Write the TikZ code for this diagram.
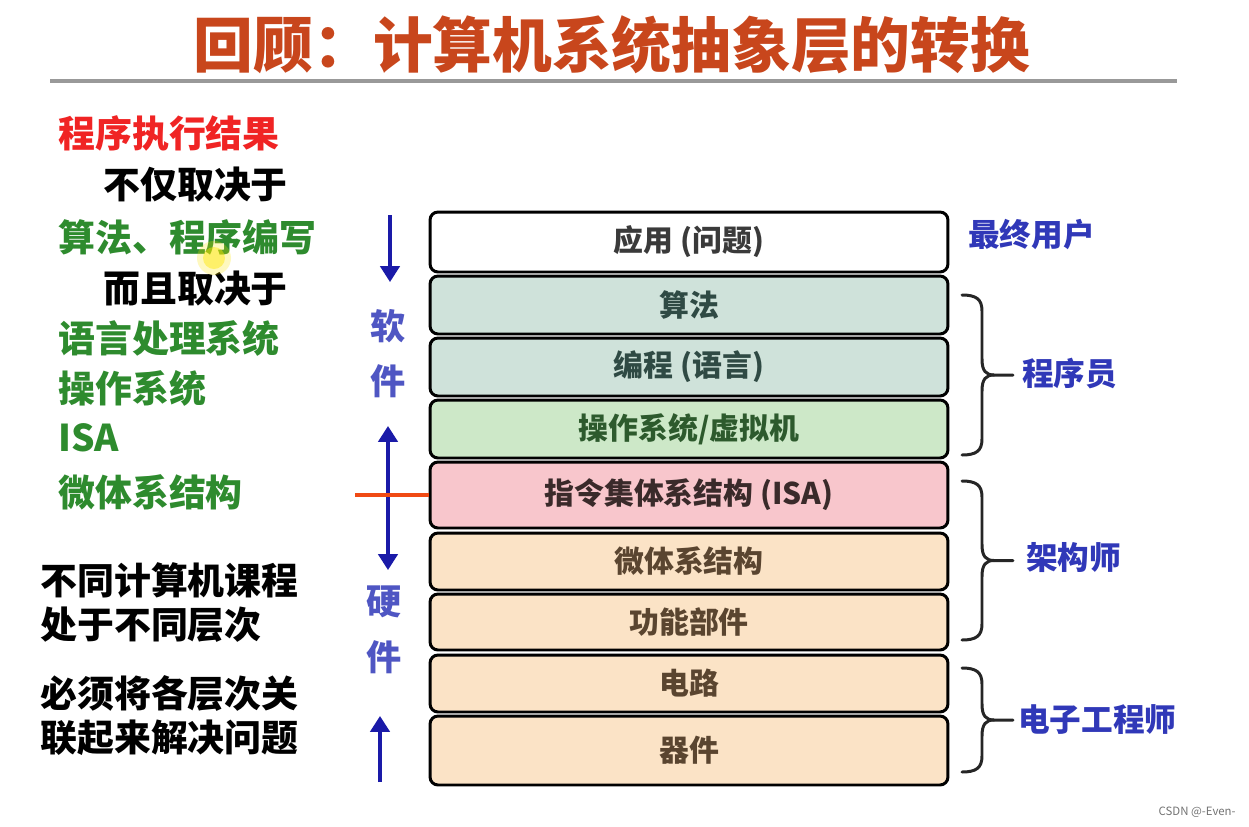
\documentclass[tikz,border=0pt]{standalone}
\usepackage{fontspec}
\setmainfont{Noto Sans CJK SC}
\usetikzlibrary{arrows.meta}
\definecolor{titlec}{HTML}{C8461C}
\definecolor{redt}{HTML}{F02424}
\definecolor{greent}{HTML}{2E8B2E}
\definecolor{bluet}{HTML}{3038B8}
\definecolor{bluea}{HTML}{1A1AA8}
\definecolor{redline}{HTML}{F04A14}
\definecolor{fapp}{HTML}{FFFFFF}
\definecolor{falg}{HTML}{CFE2DA}
\definecolor{fos}{HTML}{CDE8C8}
\definecolor{fisa}{HTML}{F8C6CC}
\definecolor{fhw}{HTML}{FBE3C6}
\definecolor{tapp}{HTML}{3A3A3A}
\definecolor{talg}{HTML}{2F4A44}
\definecolor{tos}{HTML}{2D5A2D}
\definecolor{tisa}{HTML}{3A2A2A}
\definecolor{thw}{HTML}{5A4530}
\newcommand{\mybrace}[3]{% x, top y, bottom y
  \pgfmathsetmacro{\ym}{(#2+#3)/2}
  \draw[bracestyle] (#1,#2) .. controls (#1+14,#2) and (#1+20,#2+4) .. (#1+20,#2+16)
    -- (#1+20,\ym-16) .. controls (#1+20,\ym-4) and (#1+24,\ym) .. (#1+32,\ym) -- (#1+51,\ym);
  \draw[bracestyle] (#1,#3) .. controls (#1+14,#3) and (#1+20,#3-4) .. (#1+20,#3-16)
    -- (#1+20,\ym+16) .. controls (#1+20,\ym+4) and (#1+24,\ym) .. (#1+32,\ym);
}
\begin{document}
\begin{tikzpicture}[x=0.02cm,y=-0.02cm,
  titlestyle/.style={font=\fontsize{34}{40}\selectfont\bfseries, text=titlec, inner sep=0pt},
  lefttext/.style={font=\fontsize{21}{25}\selectfont\bfseries, anchor=west, inner sep=0pt},
  layer/.style={draw=black, line width=1.7pt, rounded corners=0.16cm, minimum width=10.36cm, inner sep=0pt, font=\fontsize{17}{20}\selectfont\bfseries},
  sidelabel/.style={font=\fontsize{18}{22}\selectfont\bfseries, text=bluet, anchor=west, inner sep=0pt},
  swhw/.style={font=\fontsize{20}{24}\selectfont\bfseries, text=bluet!85!white, inner sep=0pt},
  barrow/.style={draw=bluea, line width=1.8pt, -{Triangle[width=11pt,length=9pt]}},
  bracestyle/.style={line width=1.7pt, draw=black!85, line cap=round}
]
\useasboundingbox (0,0) rectangle (1249,826);
\fill[white] (0,0) rectangle (1249,826);

% title
\node[titlestyle] (title) at (612,45) {回顾：计算机系统抽象层的转换};
\coordinate (rl) at (50,81);
\coordinate (rr) at (1177,81);
\draw[line width=2.2pt, black!40] (rl) -- (rr);

% left text
\node[lefttext, text=redt] (l1) at (58,133) {程序执行结果};
\node[lefttext, text=black] (l2) at (103,184) {不仅取决于};
\node[lefttext, text=greent] (l3) at (58,237) {算法、程序编写};
\node[lefttext, text=black] (l4) at (103,288) {而且取决于};
\node[lefttext, text=greent] (l5) at (58,338) {语言处理系统};
\node[lefttext, text=greent] (l6) at (58,388) {操作系统};
\node[lefttext, text=greent] (l7) at (58,438) {ISA};
\node[lefttext, text=greent] (l8) at (58,492) {微体系结构};
\node[lefttext, text=black] (l9) at (40,580) {不同计算机课程};
\node[lefttext, text=black] (l10) at (40,625) {处于不同层次};
\node[lefttext, text=black] (l11) at (40,693) {必须将各层次关};
\node[lefttext, text=black] (l12) at (40,738) {联起来解决问题};
\fill[yellow!90!orange, opacity=0.25] (214,258) circle (17);
\fill[yellow!90!orange, opacity=0.45] (214,258) circle (11);

% layers
\node[layer, fill=fapp, text=tapp, minimum height=1.2cm] (app) at (689,242) {应用 (问题)};
\node[layer, fill=falg, text=talg, minimum height=1.16cm] (alg) at (689,305) {算法};
\node[layer, fill=falg, text=talg, minimum height=1.16cm] (prog) at (689,367) {编程 (语言)};
\node[layer, fill=fos, text=tos, minimum height=1.16cm] (os) at (689,429) {操作系统/虚拟机};
\node[layer, fill=fisa, text=tisa, minimum height=1.32cm] (isa) at (689,495) {指令集体系结构 (ISA)};
\node[layer, fill=fhw, text=thw, minimum height=1.14cm] (march) at (689,561.5) {微体系结构};
\node[layer, fill=fhw, text=thw, minimum height=1.12cm] (func) at (689,622) {功能部件};
\node[layer, fill=fhw, text=thw, minimum height=1.14cm] (circ) at (689,683.5) {电路};
\node[layer, fill=fhw, text=thw, minimum height=1.38cm] (dev) at (689,750.5) {器件};

% left arrows and labels
\coordinate (a1s) at (390,215);
\coordinate (a1e) at (390,282);
\draw[barrow] (a1s) -- (a1e);
\node[swhw] (ruan) at (388,326) {软};
\node[swhw] (jian1) at (388,381) {件};
\coordinate (a2t) at (388,426);
\coordinate (a2b) at (388,570);
\draw[barrow, {Triangle[width=11pt,length=9pt]}-{Triangle[width=11pt,length=9pt]}] (a2t) -- (a2b);
\coordinate (rs) at (355,495);
\draw[redline, line width=2.4pt] (rs) -- (isa.west);
\node[swhw] (ying) at (384,602) {硬};
\node[swhw] (jian2) at (384,657) {件};
\coordinate (a3s) at (380,782);
\coordinate (a3e) at (380,716);
\draw[barrow] (a3s) -- (a3e);

% right labels and braces
\node[sidelabel] (user) at (968,235) {最终用户};
\mybrace{962}{295}{455}
\node[sidelabel] (coder) at (1022,374) {程序员};
\mybrace{962}{481}{640}
\node[sidelabel] (arch) at (1026,558) {架构师};
\mybrace{962}{668}{772}
\node[sidelabel] (ee) at (1018,720) {电子工程师};

% watermark
\node[font=\fontsize{6.5}{8}\selectfont, text=black!55, anchor=east, inner sep=0pt] (wm) at (1236,812) {CSDN @-Even-};
\end{tikzpicture}
\end{document}
